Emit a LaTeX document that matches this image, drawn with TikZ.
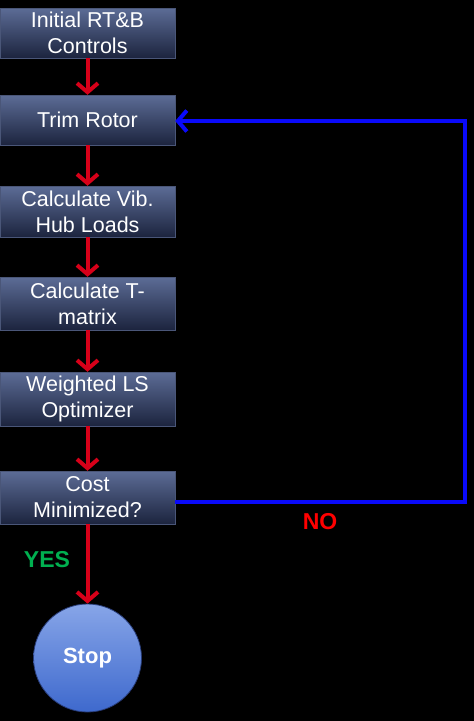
\documentclass[tikz,border=0pt]{standalone}
\usepackage{fontspec}
\setmainfont{Liberation Sans}
\usetikzlibrary{arrows.meta}
\definecolor{boxtop}{RGB}{92,108,150}
\definecolor{boxbot}{RGB}{28,36,62}
\definecolor{arrred}{RGB}{215,0,25}
\definecolor{loopblue}{RGB}{10,10,250}
\definecolor{yesgreen}{RGB}{0,176,80}
\definecolor{balltop}{RGB}{135,165,232}
\definecolor{ballbot}{RGB}{62,105,205}
\definecolor{ballline}{RGB}{40,60,120}
\tikzset{
  stepbox/.style={rectangle, minimum width=175pt, inner sep=0pt, align=center,
    top color=boxtop, bottom color=boxbot, draw=boxtop!80!black, line width=0.4pt,
    text=white, font=\fontsize{21.5}{26}\selectfont},
  flowarrow/.style={arrred, line width=4pt, -{Straight Barb[length=9pt,width=21pt]}},
  loopline/.style={loopblue, line width=4pt},
  stopnode/.style={circle, minimum size=108pt, inner sep=0pt, top color=balltop,
    bottom color=ballbot, draw=ballline, line width=0.8pt, text=white,
    font=\fontsize{22}{26}\selectfont\bfseries},
  lbl/.style={font=\fontsize{23}{26}\selectfont\bfseries}
}
\begin{document}
\begin{tikzpicture}[x=1pt,y=1pt]
\fill[black] (0,0) rectangle (474,-721);
\useasboundingbox (0,0) rectangle (474,-721);
\node[stepbox, minimum height=50pt] (c1) at (87.5,-33) {Initial RT\&B\\Controls};
\node[stepbox, minimum height=50pt] (c2) at (87.5,-120) {Trim Rotor};
\node[stepbox, minimum height=51pt] (c3) at (87.5,-211.5) {Calculate Vib.\\Hub Loads};
\node[stepbox, minimum height=53pt] (c4) at (87.5,-303.5) {Calculate T-\\matrix};
\node[stepbox, minimum height=54pt] (c5) at (87.5,-399) {Weighted LS\\Optimizer};
\node[stepbox, minimum height=53pt] (c6) at (87.5,-497.5) {Cost\\Minimized?};
\node[stopnode] (stop) at (87.5,-658) {Stop};
\draw[flowarrow] (c1) -- (c2);
\draw[flowarrow] (c2) -- (c3);
\draw[flowarrow] (c3) -- (c4);
\draw[flowarrow] (c4) -- (c5);
\draw[flowarrow] (c5) -- (c6);
\draw[flowarrow] (c6) -- (stop);
\coordinate (nr) at (465,-502);
\coordinate (nt) at (465,-121);
\draw[loopline, line join=miter, -{Straight Barb[length=9pt,width=21pt]}] (c6.east |- nr) -- (nr) -- (nt) -- (c2.east |- nt);
\node[lbl, text=red] (no) at (320,-522) {NO};
\node[lbl, text=yesgreen] (yes) at (47,-560) {YES};
\end{tikzpicture}
\end{document}
